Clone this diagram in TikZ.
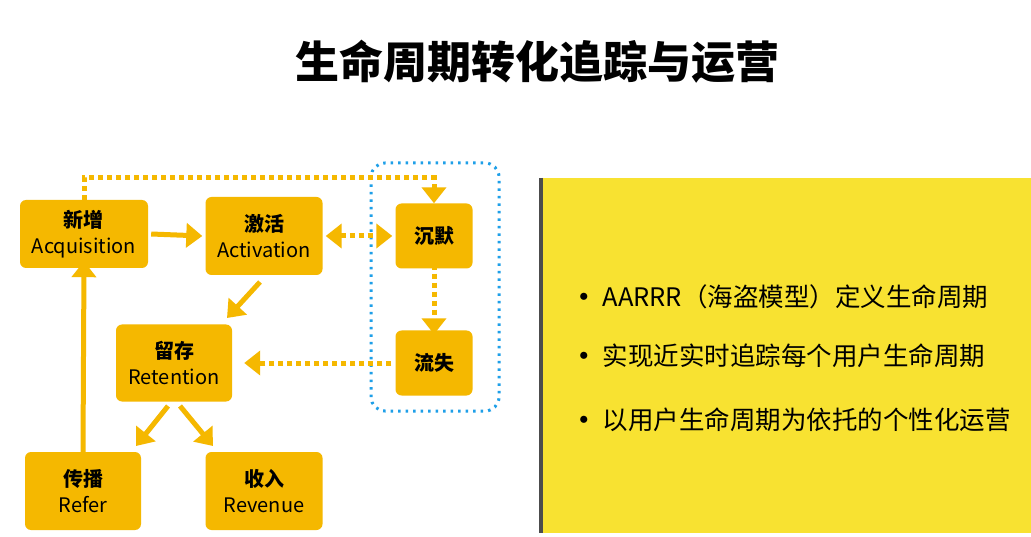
\documentclass[tikz,border=0pt]{standalone}
\usepackage{fontspec}
\setmainfont{Noto Sans CJK SC}
\usetikzlibrary{arrows.meta}
\definecolor{org}{HTML}{F5B800}
\definecolor{pan}{HTML}{F8E231}
\definecolor{blu}{HTML}{1E9FE8}
\begin{document}
\begin{tikzpicture}[x=1pt,y=-1pt,
 box/.style={fill=org,rounded corners=6pt,minimum width=#1,align=center,inner sep=2pt,font=\fontsize{20}{26}\selectfont},
 ar/.style={draw=org,line width=5pt,-{Triangle[length=16pt,width=24pt]}},
 dar/.style={draw=org,line width=5pt,dash pattern=on 5pt off 4pt,-{Triangle[length=16pt,width=24pt]}},
 bul/.style={anchor=west,font=\fontsize{25.5}{28}\selectfont}]
\useasboundingbox (0,0) rectangle (1031,537);
\fill[white] (0,0) rectangle (1031,537);
\node[font=\fontsize{44}{50}\selectfont\bfseries] (t) at (537,62) {生命周期转化追踪与运营};
\node[box=128pt,minimum height=68pt] (a) at (84,234) {\textbf{新增}\\Acquisition};
\node[box=117pt,minimum height=78pt] (b) at (264,236) {\textbf{激活}\\Activation};
\node[box=77pt,minimum height=65pt] (c) at (434,236) {\textbf{沉默}};
\node[box=77pt,minimum height=65pt] (d) at (434,363) {\textbf{流失}};
\node[box=116pt,minimum height=77pt] (e) at (174,363) {\textbf{留存}\\Retention};
\node[box=116pt,minimum height=78pt] (f) at (83,491) {\textbf{传播}\\Refer};
\node[box=117pt,minimum height=78pt] (g) at (264,491) {\textbf{收入}\\Revenue};
\draw[blu,line width=3pt,dash pattern=on 2.5pt off 5pt,rounded corners=14pt] (371,163) rectangle (499,411);
\coordinate (p1) at (84,178);
\coordinate (p2) at (434,178);
\draw[dar] (a.north) -- (p1) -- (p2) -- (c.north);
\draw[ar] ([xshift=3pt]a.east) -- ([xshift=-3pt]b.west);
\draw[dar,{Triangle[length=16pt,width=24pt]}-{Triangle[length=16pt,width=24pt]}] ([xshift=3pt]b.east) -- ([xshift=-3pt]c.west);
\draw[dar] ([yshift=4pt]c.south) -- ([yshift=-4pt]d.north);
\draw[dar] ([xshift=-4pt]d.west) -- ([xshift=12pt]e.east |- d.west);
\coordinate (q1) at (260,282); \coordinate (q2) at (227,318);
\draw[ar] (q1) -- (q2);
\coordinate (r0) at (168,406); \coordinate (r1) at (136,446);
\coordinate (s0) at (180,406); \coordinate (s1) at (213,446);
\draw[ar] (r0) -- (r1);
\draw[ar] (s0) -- (s1);
\draw[ar] (f.north) -- ([yshift=7pt]a.south);
\fill[pan] (540,178) rectangle (1031,533);
\draw[black!70,line width=4pt] (541,178) -- (541,533);
\node[bul] (l1) at (568,297) {\textbf{•} AARRR（海盗模型）定义生命周期};
\node[bul] (l2) at (568,356) {\textbf{•} 实现近实时追踪每个用户生命周期};
\node[bul] (l3) at (568,420) {\textbf{•} 以用户生命周期为依托的个性化运营};
\end{tikzpicture}
\end{document}
